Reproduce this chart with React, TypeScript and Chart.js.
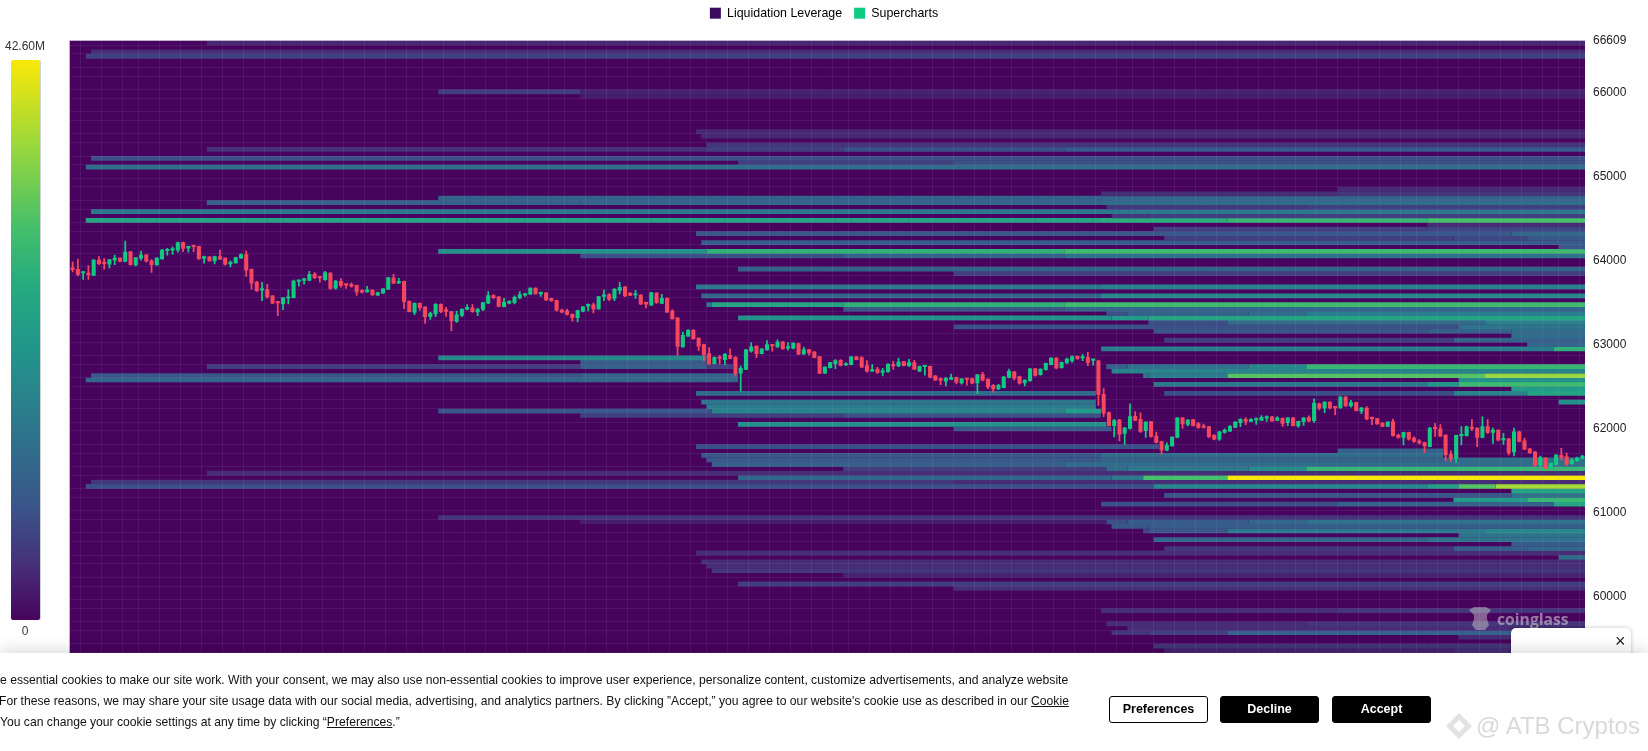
import React, { useEffect, useRef } from "react";
import { Chart, registerables } from "chart.js";

Chart.register(...registerables);

const priceTicks = [66609, 66000, 65000, 64000, 63000, 62000, 61000, 60000];
const scaleMaxLabel = "42.60M";
const scaleMinLabel = "0";
const seriesNames = ["Liquidation Leverage", "Supercharts"];

// [price level, [[start candle, leverage in millions], ...]]; a value of 0 closes the band
const levels: [number, [number, number][]][] = [
  [66585, [[26, 3.5]]],
  [66480, [[4, 4]]],
  [66427, [[3, 6.5]]],
  [66005, [[70, 6], [97, 3]]],
  [65953, [[97, 2.5]]],
  [65531, [[119, 3.5]]],
  [65478, [[120, 3.5]]],
  [65373, [[121, 5]]],
  [65320, [[26, 4.5], [121, 6], [147, 8], [189, 9.5]]],
  [65215, [[4, 8]]],
  [65162, [[127, 6], [168, 8]]],
  [65109, [[3, 13]]],
  [64846, [[241, 4]]],
  [64793, [[196, 4], [241, 5]]],
  [64741, [[70, 11], [196, 12]]],
  [64688, [[26, 11], [97, 12], [196, 13]]],
  [64635, [[197, 5], [235, 6]]],
  [64582, [[4, 15]]],
  [64530, [[198, 5], [205, 6]]],
  [64477, [[3, 24], [196, 26], [220, 28], [258, 30]]],
  [64424, [[258, 4]]],
  [64372, [[206, 6], [258, 7]]],
  [64319, [[119, 9], [274, 12]]],
  [64266, [[208, 6], [263, 7], [277, 9]]],
  [64213, [[120, 10]]],
  [64161, [[283, 9]]],
  [64108, [[70, 20], [121, 27], [189, 29]]],
  [64055, [[97, 8], [147, 11], [189, 14]]],
  [63897, [[127, 11]]],
  [63845, [[168, 6]]],
  [63687, [[119, 15], [196, 17]]],
  [63581, [[120, 12], [196, 18]]],
  [63476, [[121, 15], [122, 24], [147, 27], [189, 29]]],
  [63423, [[147, 9], [189, 12]]],
  [63370, [[197, 8], [201, 11], [224, 13], [235, 16]]],
  [63318, [[127, 20], [198, 22], [205, 24]]],
  [63265, [[205, 8], [220, 13], [269, 17]]],
  [63212, [[168, 8], [264, 14]]],
  [63160, [[206, 9], [258, 11], [274, 13]]],
  [63107, [[274, 13]]],
  [63054, [[208, 6], [263, 11]]],
  [63001, [[277, 12]]],
  [62949, [[196, 16], [282, 27]]],
  [62843, [[70, 18], [121, 0]]],
  [62791, [[97, 10], [121, 0]]],
  [62738, [[26, 6], [97, 11], [121, 6], [126, 0], [197, 11], [201, 14], [224, 18], [235, 28]]],
  [62685, [[198, 17]]],
  [62632, [[4, 9], [97, 11], [127, 0], [204, 14], [205, 16], [220, 31], [269, 36]]],
  [62580, [[3, 12], [127, 0], [264, 20]]],
  [62527, [[206, 15], [258, 21], [264, 29]]],
  [62474, [[274, 22]]],
  [62422, [[119, 13], [195, 0], [208, 8], [263, 17], [277, 24]]],
  [62316, [[120, 14], [195, 0], [283, 20]]],
  [62263, [[121, 16], [195, 0]]],
  [62211, [[70, 9], [122, 17], [189, 22], [196, 0]]],
  [62158, [[97, 6], [147, 8], [196, 0]]],
  [62053, [[127, 20], [197, 0]]],
  [62000, [[168, 9], [198, 0]]],
  [61789, [[119, 8], [207, 0]]],
  [61737, [[241, 11], [261, 0]]],
  [61684, [[120, 9], [196, 13], [261, 0]]],
  [61631, [[121, 9], [196, 11], [264, 13]]],
  [61578, [[122, 11], [189, 13]]],
  [61526, [[147, 6], [197, 13], [201, 15], [224, 19], [235, 28]]],
  [61473, [[26, 4]]],
  [61420, [[127, 12], [198, 15], [204, 30], [220, 42.6]]],
  [61368, [[4, 5], [168, 4]]],
  [61315, [[3, 8], [206, 18], [258, 23], [264, 31], [271, 37]]],
  [61262, [[274, 24]]],
  [61210, [[208, 9], [274, 14]]],
  [61157, [[263, 22], [277, 28]]],
  [61104, [[196, 8], [241, 11], [282, 24]]],
  [60946, [[70, 5]]],
  [60893, [[97, 2.5], [197, 8], [201, 10], [224, 12], [235, 14]]],
  [60841, [[198, 9], [205, 10]]],
  [60788, [[204, 7], [205, 9], [220, 15], [269, 18]]],
  [60735, [[264, 14]]],
  [60683, [[206, 12], [258, 14]]],
  [60630, [[274, 10]]],
  [60577, [[208, 5], [263, 10], [277, 12]]],
  [60525, [[119, 4]]],
  [60472, [[283, 13]]],
  [60419, [[120, 4]]],
  [60367, [[121, 4]]],
  [60314, [[122, 5]]],
  [60261, [[147, 3]]],
  [60156, [[127, 6]]],
  [60103, [[168, 4]]],
  [59840, [[196, 4], [241, 5]]],
  [59681, [[197, 4], [235, 5]]],
  [59629, [[201, 4]]],
  [59576, [[198, 5], [205, 6], [220, 11]]],
  [59523, [[264, 4]]],
  [59418, [[206, 5], [258, 5]]],
  [59365, [[208, 3], [263, 4]]],
];

const opens = [
  63912,63896,63852,63852,63824,64004,63972,63956,64004,64028,63988,64104,63948,64028,64068,63996,63948,64020,64116,64124,
  64124,64212,64148,64172,64168,64024,64044,63996,64048,64028,63960,63972,64028,64072,63896,63744,63648,63656,63580,63508,
  63488,63552,63560,63752,63764,63764,63840,63804,63772,63852,63672,63752,63716,63716,63704,63636,63628,63648,63588,63612,
  63660,63792,63732,63752,63516,63384,63492,63448,63332,63364,63480,63408,63392,63276,63348,63420,63436,63388,63420,63492,
  63584,63568,63452,63492,63500,63556,63588,63600,63672,63604,63616,
  63550,63526,63410,63402,63362,63322,63398,63458,63474,63426,63574,63594,63550,63646,63686,63614,63590,63590,63502,63470,
  63614,63490,63550,63398,63318,62974,63102,63170,63078,63002,62894,62774,62850,62822,62874,62850,62662,62706,62922,62982,
  62894,62938,62998,62974,63034,62958,62958,63014,62890,62942,62914,62858,62662,62726,62774,62814,62758,62762,62854,62846,
  62750,62686,62710,62670,62678,62762,62746,62798,62754,62786,62686,62738,62742,62630,62594,62566,62586,62610,62546,62594,
  62598,62546,62646,62590,62518,62474,62490,62610,62678,62622,62546,62570,62714,62642,62702,62762,62842,62726,62782,62810,
  62862,62842,62850,
  62813,62809,62409,62193,62037,62105,61945,62005,62149,62113,61977,62085,61913,61849,61745,61797,61897,62129,62053,62109,
  62061,62025,62025,61925,61877,61957,61973,62017,62073,62113,62089,62105,62101,62125,62141,62101,62125,62073,62129,62033,
  62085,62133,62097,62297,62249,62317,62261,62249,62377,62273,62313,62209,62245,62129,62121,62069,62029,62085,61925,61897,
  61957,61889,61857,61837,61789,62009,62001,61925,61697,61649,61917,61917,62021,62009,61897,62025,61957,61985,61869,61881,
  61725,61965,61857,61761,61725,61569,61653,61553,61577,61685,61669,61585,61621,61649,
];
const closes = [
  63892,63836,63864,63832,64004,63964,63964,64012,64028,63988,64100,63952,64036,64064,63992,63952,64028,64124,64124,64136,
  64212,64144,64168,64164,64020,64048,63996,64048,64016,63956,63980,64036,64072,63884,63732,63640,63656,63568,63492,63496,
  63556,63568,63756,63760,63780,63836,63796,63792,63856,63668,63756,63704,63708,63696,63628,63624,63652,63592,63620,63664,
  63796,63732,63752,63512,63392,63492,63440,63332,63372,63480,63396,63396,63284,63356,63420,63444,63392,63424,63500,63584,
  63560,63456,63504,63516,63564,63596,63604,63672,63604,63616,63532,
  63522,63410,63386,63358,63322,63406,63450,63478,63422,63570,63582,63538,63662,63682,63578,63586,63602,63482,63482,63618,
  63498,63550,63386,63306,62978,63110,63170,63070,62982,62882,62770,62850,62838,62886,62838,62662,62718,62938,62974,62894,
  62950,63002,62986,63030,62950,62970,63018,62886,62942,62902,62846,62658,62734,62786,62810,62754,62770,62854,62822,62734,
  62686,62702,62666,62690,62766,62746,62794,62750,62786,62710,62742,62746,62614,62578,62578,62602,62610,62554,62594,62586,
  62542,62642,62578,62498,62474,62518,62618,62682,62602,62542,62578,62714,62634,62710,62778,62842,62722,62790,62830,62858,
  62834,62858,62786,
  62817,62409,62185,62037,62097,61937,62009,62145,62101,61969,62081,61909,61837,61745,61805,61901,62129,62057,62105,62037,
  62017,62017,61905,61877,61965,61985,62029,62081,62113,62089,62113,62121,62137,62145,62093,62129,62065,62129,62037,62089,
  62129,62093,62305,62245,62317,62249,62249,62377,62273,62313,62217,62249,62117,62121,62057,62029,62081,61917,61897,61957,
  61877,61849,61833,61797,62009,62001,61913,61689,61649,61921,61929,62025,62001,61897,62025,61953,61985,61865,61881,61717,
  61965,61849,61757,61713,61569,61657,61533,61589,61689,61657,61577,61625,61653,61677,
];
const highs = [
  63984,64016,63872,63940,64012,64048,64024,64012,64064,64032,64232,64108,64036,64112,64072,64012,64036,64132,64144,64164,
  64220,64220,64172,64184,64172,64052,64048,64052,64124,64032,63996,64040,64080,64116,63900,63752,63740,63716,63584,63512,
  63560,63656,63768,63768,63792,63872,63856,63812,63872,63856,63764,63784,63720,63736,63708,63656,63692,63652,63624,63668,
  63800,63836,63788,63756,63520,63496,63496,63452,63384,63488,63484,63444,63396,63400,63428,63476,63476,63428,63504,63632,
  63596,63572,63552,63524,63580,63632,63608,63676,63676,63628,63620,
  63554,63530,63422,63422,63366,63410,63454,63486,63494,63574,63650,63606,63666,63742,63690,63618,63646,63594,63506,63622,
  63618,63598,63558,63418,63322,63150,63178,63178,63082,63006,62966,62854,62870,62898,62950,62858,62746,62946,63026,62986,
  62954,63050,63002,63058,63038,63026,63022,63018,62970,62946,62918,62862,62738,62790,62822,62822,62786,62858,62858,62858,
  62810,62762,62730,62718,62774,62802,62842,62802,62826,62814,62746,62750,62746,62634,62606,62610,62650,62614,62598,62598,
  62602,62646,62670,62594,62526,62530,62622,62710,62682,62626,62582,62718,62718,62714,62782,62846,62846,62794,62842,62866,
  62866,62882,62910,
  62825,62817,62477,62201,62113,62113,62017,62297,62205,62189,62085,62089,61961,61853,61833,61905,62133,62133,62109,62113,
  62073,62057,62029,61929,61969,62001,62037,62085,62121,62133,62121,62129,62157,62153,62145,62145,62129,62133,62133,62093,
  62133,62153,62357,62305,62325,62325,62265,62385,62385,62337,62317,62253,62265,62133,62125,62073,62085,62117,61937,61961,
  61961,61905,61873,61841,62017,62065,62049,61929,61737,61925,62025,62033,62109,62013,62141,62109,62009,61989,61945,61885,
  62009,61969,61889,61765,61729,61677,61657,61593,61693,61769,61713,61649,61665,61685,
];
const lows = [
  63864,63816,63776,63776,63824,63952,63896,63908,63952,63984,63984,63944,63936,64004,63980,63860,63944,64016,64064,64072,
  64100,64104,64100,64104,64016,63968,63992,63960,64012,63944,63924,63968,64024,63812,63660,63632,63524,63552,63488,63344,
  63416,63484,63556,63696,63720,63760,63784,63744,63764,63656,63660,63684,63668,63684,63584,63612,63624,63584,63584,63608,
  63656,63724,63728,63428,63388,63356,63408,63252,63300,63332,63380,63336,63164,63264,63332,63412,63384,63344,63404,63488,
  63548,63448,63448,63484,63484,63544,63572,63596,63600,63572,63524,
  63514,63398,63378,63350,63278,63270,63390,63402,63378,63422,63522,63522,63522,63602,63570,63582,63550,63478,63438,63466,
  63490,63486,63382,63302,62874,62970,63098,63062,62930,62810,62766,62770,62770,62762,62830,62626,62450,62702,62910,62846,
  62890,62934,62922,62966,62946,62934,62950,62882,62882,62874,62842,62654,62658,62722,62714,62746,62750,62758,62818,62730,
  62674,62682,62658,62630,62670,62706,62738,62746,62738,62702,62678,62638,62606,62574,62526,62510,62586,62534,62530,62518,
  62534,62422,62570,62478,62434,62466,62486,62606,62578,62530,62510,62566,62626,62638,62698,62758,62714,62722,62778,62790,
  62826,62810,62750,
  62757,62277,62145,62033,61905,61857,61813,61997,62097,61957,61897,61901,61833,61697,61737,61793,61893,62005,62033,62033,
  62005,62009,61897,61869,61861,61949,61969,62013,62025,62049,62085,62053,62097,62089,62089,62097,62029,62037,62033,62017,
  62041,62081,62077,62225,62193,62237,62165,62245,62265,62257,62213,62181,62105,62049,62053,62025,62025,61913,61889,61809,
  61865,61837,61817,61717,61785,61909,61909,61617,61609,61597,61809,61913,61977,61789,61893,61945,61825,61857,61813,61689,
  61677,61845,61753,61709,61553,61557,61525,61529,61569,61625,61565,61577,61609,61641,
];

const gridCandles = [
  2,6,10,13,17,21,25,29,33,37,40,44,48,52,56,60,64,67,71,75,79,83,87,91,94,98,102,106,110,114,118,121,125,129,133,137,141,145,
  148,152,156,160,164,168,172,175,179,183,187,191,195,199,202,206,210,214,218,222,226,229,233,237,241,245,249,253,256,260,264,
  268,272,276,280,283,287,
];

const colorStops: [number, number[]][] = [
  [0, [71, 3, 94]],
  [0.1, [70, 48, 120]],
  [0.2, [58, 84, 137]],
  [0.36, [43, 122, 140]],
  [0.5, [33, 153, 138]],
  [0.6, [37, 171, 127]],
  [0.7, [68, 191, 107]],
  [0.85, [156, 216, 58]],
  [1, [250, 232, 8]],
];
const MAX_VALUE = 42.6;
const UP = "#0ecb81";
const DOWN = "#f6465d";
const FONT = "'Liberation Sans', Arial, sans-serif";
const GRID = "rgba(190,170,225,0.1)";

function colorFor(value: number) {
  const f = Math.min(1, value / MAX_VALUE);
  for (let i = 1; i < colorStops.length; i++) {
    const [b, cb] = colorStops[i];
    const [a, ca] = colorStops[i - 1];
    if (f <= b) {
      const t = (f - a) / (b - a);
      const c = ca.map((v, j) => Math.round(v + (cb[j] - v) * t));
      return `rgb(${c[0]},${c[1]},${c[2]})`;
    }
  }
  return "rgb(250,232,8)";
}

function levelDatasets() {
  const out: any[] = [];
  levels.forEach(([price, runs]) => {
    runs.forEach(([start, value], i) => {
      if (value === 0) return;
      const end = i + 1 < runs.length ? runs[i + 1][0] : 288;
      out.push({
        type: "line",
        data: [{ x: start, y: price }, { x: end, y: price }],
        borderColor: colorFor(value),
        borderWidth: 4.7,
        borderCapStyle: "butt",
        pointRadius: 0,
        tension: 0,
        order: 3,
      });
    });
  });
  return out;
}

const gridPrices: number[] = [];
for (let p = 66559; p > 59300; p -= 263.5) gridPrices.push(p);
for (let p = 66455; p > 59300; p -= 263.5) gridPrices.push(p);

const scaleGradient =
  "linear-gradient(to top," +
  colorStops.map(([f, c]) => `rgb(${c[0]},${c[1]},${c[2]}) ${f * 100}%`).join(",") +
  ")";

const plotFill = {
  id: "plotFill",
  beforeLayout(chart: any) {
    if (chart.legend && !chart.legend.__fitted) {
      const fit = chart.legend.fit;
      chart.legend.fit = function () {
        fit.call(this);
        this.height = 41;
      };
      chart.legend.__fitted = true;
    }
  },
  afterLayout(chart: any) {
    if (chart.legend) chart.legend.top = -5;
  },
  beforeDraw(chart: any) {
    const { ctx, chartArea: a } = chart;
    ctx.save();
    ctx.fillStyle = "#47035e";
    ctx.fillRect(a.left, a.top, a.right - a.left, a.bottom - a.top);
    ctx.restore();
  },
  afterDraw(chart: any) {
    const { ctx, chartArea: a } = chart;
    ctx.save();
    ctx.strokeStyle = "#bdb3c9";
    ctx.lineWidth = 1;
    ctx.beginPath();
    ctx.moveTo(a.left - 0.5, a.bottom);
    ctx.lineTo(a.left - 0.5, a.top - 0.5);
    ctx.lineTo(a.right, a.top - 0.5);
    ctx.stroke();
    ctx.restore();
  },
};

const abs = (o: React.CSSProperties): React.CSSProperties => ({ position: "absolute", ...o });
const btn = (left: number, filled: boolean): React.CSSProperties =>
  abs({
    left,
    top: 696,
    width: 99,
    height: 27,
    boxSizing: "border-box",
    borderRadius: 3,
    border: "1.5px solid #000",
    background: filled ? "#000" : "#fff",
    color: filled ? "#fff" : "#000",
    font: `bold 12.5px ${FONT}`,
    lineHeight: "24px",
    textAlign: "center",
  });
const cookieLine = (top: number, left: number): React.CSSProperties =>
  abs({ top, left, whiteSpace: "nowrap", font: `12.15px ${FONT}`, lineHeight: "21px", color: "#111" });

export default function App() {
  const ref = useRef<HTMLCanvasElement>(null);
  useEffect(() => {
    const wicks = lows.map((l, i) => ({ x: i + 0.5, y: [l, highs[i]] }));
    const bodies = opens.map((o, i) => ({ x: i + 0.5, y: [o, closes[i]] }));
    const tint = opens.map((o, i) => (closes[i] >= o ? UP : DOWN));
    const chart = new Chart(ref.current as HTMLCanvasElement, {
      type: "bar",
      data: {
        datasets: [
          ...levelDatasets(),
          { type: "bar", data: wicks, backgroundColor: tint, barThickness: 1.1, grouped: false, borderWidth: 0, order: 2 },
          { type: "bar", data: bodies, backgroundColor: tint, barThickness: 3.4, grouped: false, borderWidth: 0, minBarLength: 1.5, order: 1 },
        ] as any,
      },
      plugins: [plotFill],
      options: {
        animation: false,
        responsive: false,
        events: [],
        layout: { padding: 0 },
        plugins: {
          tooltip: { enabled: false },
          legend: {
            display: true,
            position: "top",
            labels: {
              boxWidth: 11,
              boxHeight: 11,
              padding: 12,
              color: "#333",
              font: { size: 12.4, family: FONT },
              generateLabels: () => [
                { text: seriesNames[0], fillStyle: "#3c0a5e", strokeStyle: "#3c0a5e", lineWidth: 0, hidden: false },
                { text: seriesNames[1], fillStyle: UP, strokeStyle: UP, lineWidth: 0, hidden: false },
              ],
            },
          },
        },
        scales: {
          x: {
            type: "linear",
            min: 0,
            max: 288,
            offset: false,
            border: { display: false },
            grid: { display: true, offset: false, z: 1, color: GRID, drawTicks: false },
            ticks: { display: false },
            afterBuildTicks: (s: any) => { s.ticks = gridCandles.map((value) => ({ value })); },
            afterFit: (s: any) => { s.height = 0; },
          },
          y: {
            type: "linear",
            position: "right",
            min: 59326,
            max: 66609,
            border: { display: false },
            grid: { display: false, drawTicks: false },
            ticks: { color: "#222", padding: 8, autoSkip: false, font: { size: 12, family: FONT }, callback: (v: any) => String(v) },
            afterBuildTicks: (s: any) => { s.ticks = priceTicks.map((value) => ({ value })); },
            afterFit: (s: any) => { s.width = 63; },
          },
          yGrid: {
            type: "linear",
            position: "left",
            min: 59326,
            max: 66609,
            border: { display: false },
            grid: { display: true, z: 1, color: GRID, drawTicks: false },
            ticks: { display: false },
            afterBuildTicks: (s: any) => { s.ticks = gridPrices.map((value) => ({ value })); },
            afterFit: (s: any) => { s.width = 70; },
          },
        },
      } as any,
    });
    return () => chart.destroy();
  }, []);

  return (
    <div style={{ position: "fixed", inset: 0, overflow: "hidden", background: "#fff", fontFamily: FONT }}>
      <canvas ref={ref} width={1648} height={669} style={abs({ left: 0, top: 0, display: "block" })} />

      <div style={abs({ left: 0, width: 50, top: 39, textAlign: "center", font: `12px ${FONT}`, color: "#333" })}>{scaleMaxLabel}</div>
      <div style={abs({ left: 10.5, top: 60, width: 29, height: 560, background: scaleGradient, borderRadius: 2, boxShadow: "1px 0 0 #c9d6d4" })} />
      <div style={abs({ left: 0, width: 50, top: 624, textAlign: "center", font: `12px ${FONT}`, color: "#333" })}>{scaleMinLabel}</div>

      <svg width="24" height="26" viewBox="0 0 24 26" style={abs({ left: 1468, top: 605, opacity: 0.5 })}>
        <path d="M1 5 L6 2 H18 L23 5 L19 10 V14 L21 20 L17 25 H8 L4 20 L6 14 V10 Z" fill="#c8c3c8" />
      </svg>
      <div style={abs({ left: 1497, top: 608, font: `bold 15.7px 'Open Sans', ${FONT}`, color: "rgba(205,198,208,0.6)" })}>coinglass</div>

      <div style={abs({ left: 1511, top: 628, width: 120, height: 30, background: "#fff", borderRadius: "5px 5px 0 0", boxShadow: "0 0 4px rgba(0,0,0,0.25)" })}>
        <div style={abs({ left: 104, top: 3, font: `18px ${FONT}`, color: "#222" })}>×</div>
      </div>

      <div style={abs({ left: 0, right: 0, top: 653, height: 98, background: "#fff", boxShadow: "0 -2px 16px rgba(0,0,0,0.16)" })} />
      <div style={cookieLine(670, 0)}>e essential cookies to make our site work. With your consent, we may also use non-essential cookies to improve user experience, personalize content, customize advertisements, and analyze website</div>
      <div style={cookieLine(691, -1)}>For these reasons, we may share your site usage data with our social media, advertising, and analytics partners. By clicking ”Accept,” you agree to our website's cookie use as described in our <u>Cookie</u></div>
      <div style={cookieLine(712, 0)}>You can change your cookie settings at any time by clicking “<u>Preferences</u>.”</div>
      <div style={btn(1109, false)}>Preferences</div>
      <div style={btn(1220, true)}>Decline</div>
      <div style={btn(1332, true)}>Accept</div>

      <svg width="30" height="30" viewBox="0 0 30 30" style={abs({ left: 1444, top: 711 })}>
        <path d="M15 2 L28 15 L15 28 L2 15 Z M15 9 L9 15 L15 21 L21 15 Z" fill="#e2e2e2" />
      </svg>
      <div style={abs({ left: 1476, top: 712, font: `24px ${FONT}`, color: "#d9d9d9", whiteSpace: "nowrap" })}>@ ATB Cryptos</div>
    </div>
  );
}
